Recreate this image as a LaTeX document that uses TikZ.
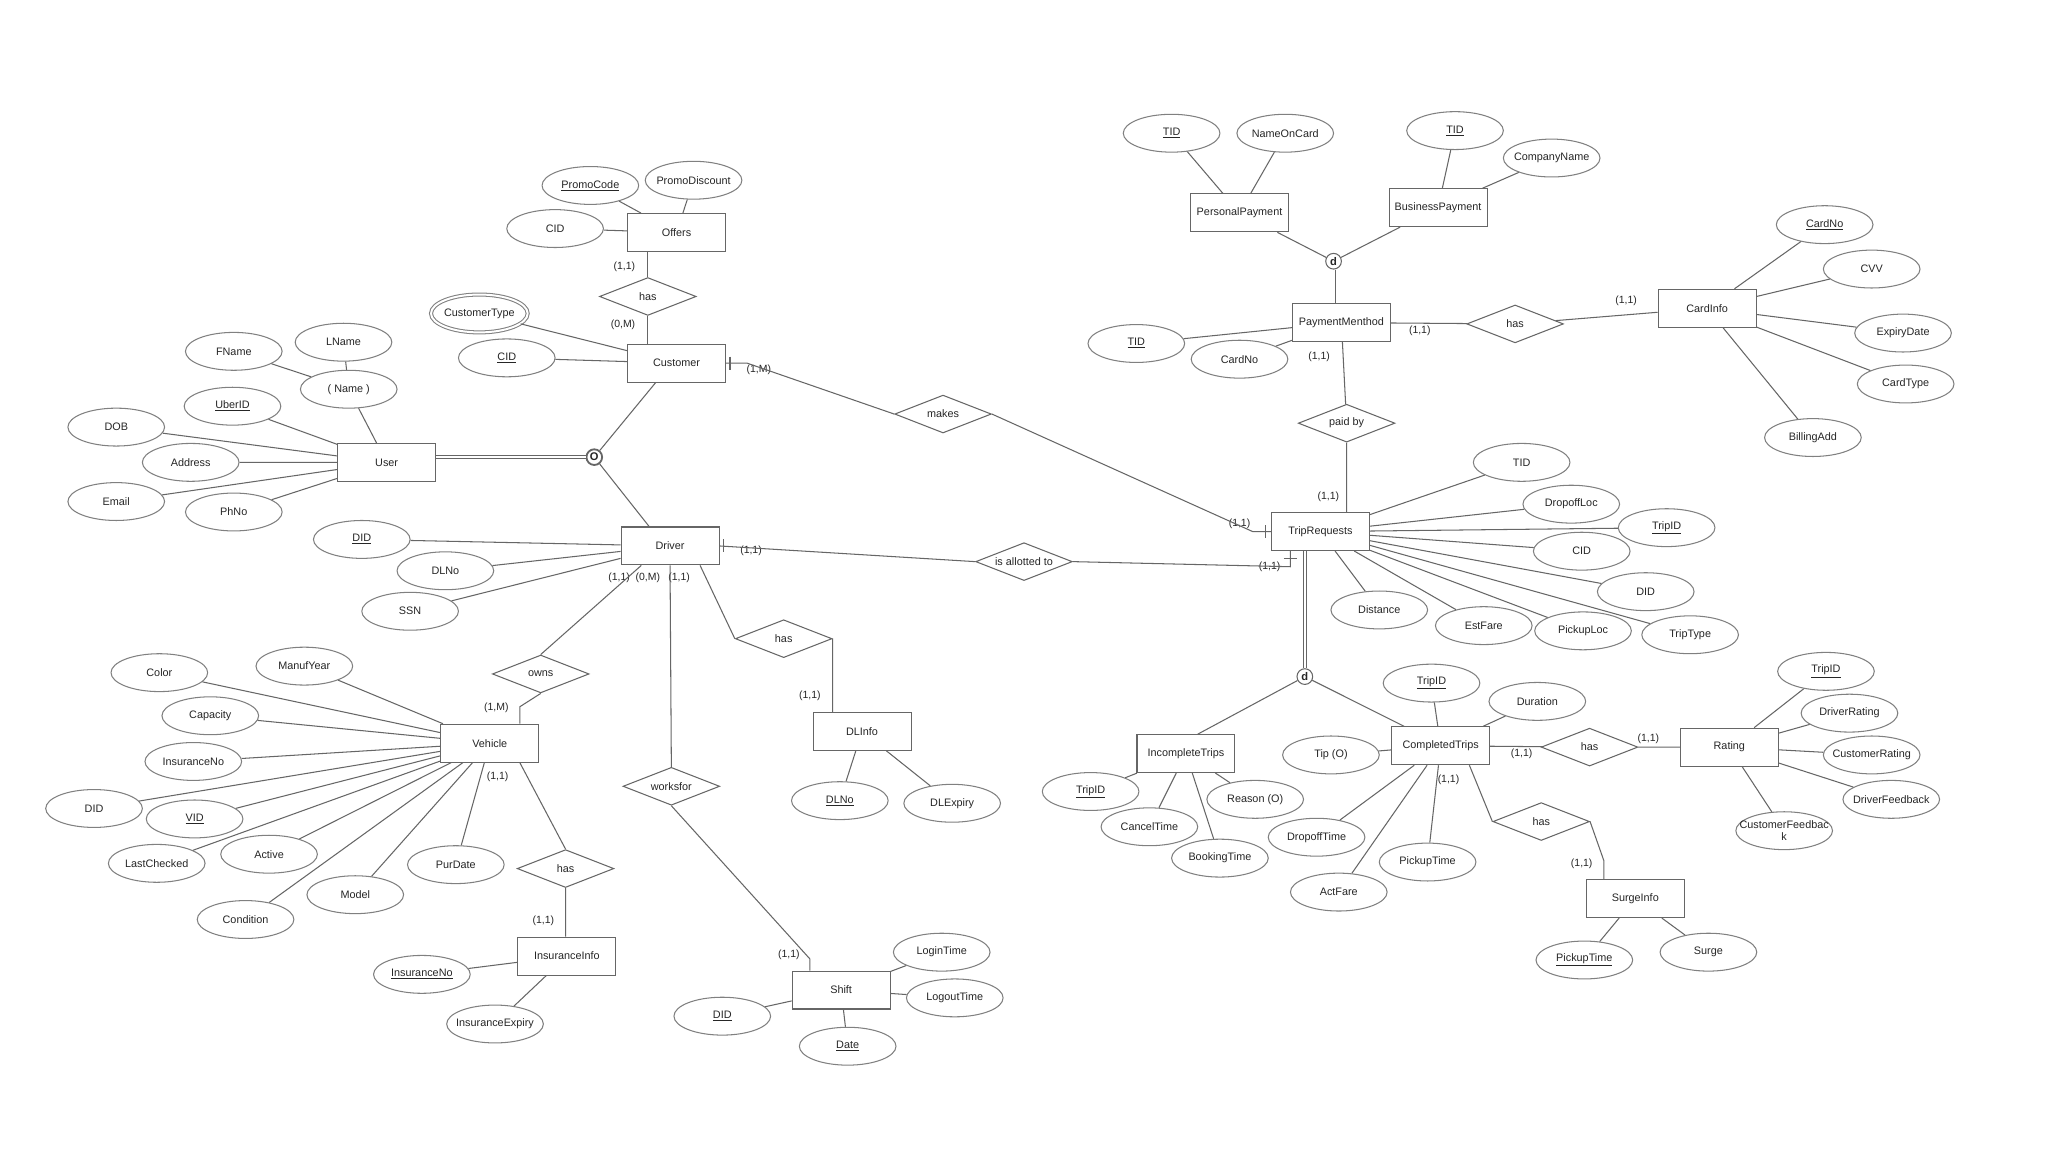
\documentclass[tikz,border=0pt]{standalone}
\usepackage{fontspec}
\setmainfont{Liberation Sans}
\usepackage{tikz}
\usetikzlibrary{shapes.geometric, positioning}

\begin{document}
\begin{tikzpicture}[x=1pt, y=-1pt,
  every node/.style={font=\fontsize{8.3}{9}\selectfont, text=black!85},
  attr/.style={ellipse, draw=black!50, line width=0.8pt, minimum width=74pt, minimum height=29pt, inner xsep=-8pt, inner ysep=0pt},
  ent/.style={rectangle, draw=black!60, line width=0.8pt, minimum width=75pt, minimum height=29pt, inner sep=1pt},
  rel/.style={diamond, draw=black!60, line width=0.8pt, minimum width=74pt, minimum height=29pt, inner sep=0pt, aspect=2.5},
  spec/.style={circle, draw=black!60, line width=0.8pt, inner sep=0pt, minimum size=12pt, font=\fontsize{8.5}{9}\selectfont\bfseries},
  card/.style={font=\fontsize{8}{9}\selectfont},
  lnk/.style={draw=black!60, line width=0.8pt},
  dbl/.style={draw=black!60, double, double distance=1.8pt, line width=0.6pt}]
\fill[white] (0,0) rectangle (1568,882);
\useasboundingbox (0,0) rectangle (1568,882);

% offers and customer
\node[attr] (pcode) at (452,142) {\underline{PromoCode}};
\node[attr] (pdisc) at (531,138) {PromoDiscount};
\node[attr] (ocid) at (425,175) {CID};
\node[ent] (offers) at (518,178) {Offers};
\node[rel] (hasof) at (496,227) {has};
\node[ent] (cust) at (518,278) {Customer};
\node[attr, double, double distance=1.5pt] (ctype) at (367,240) {CustomerType};
\node[attr] (ccid) at (388,274) {\underline{CID}};
\node[rel] (makes) at (722,317) {makes};

% user
\node[attr] (fname) at (179,269) {FName};
\node[attr] (lname) at (263,262) {LName};
\node[attr] (uname) at (267,298) {( Name )};
\node[attr] (uberid) at (178,311) {\underline{UberID}};
\node[attr] (dob) at (89,327) {DOB};
\node[attr] (addr) at (146,354) {Address};
\node[attr] (email) at (89,384) {Email};
\node[attr] (phno) at (179,392) {PhNo};
\node[ent] (user) at (296,354) {User};
\node[spec, line width=1.4pt] (ovl) at (455,350) {O};

% driver
\node[ent] (drv) at (513,418) {Driver};
\node[attr] (ddid) at (277,413) {\underline{DID}};
\node[attr] (dlno) at (341,437) {DLNo};
\node[attr] (ssn) at (314,468) {SSN};
\node[rel] (allot) at (784,430) {is allotted to};
\node[rel] (owns) at (414,516) {owns};
\node[rel] (wfor) at (514,602) {worksfor};
\node[rel] (hasdl) at (600,489) {has};
\node[ent] (dlinfo) at (660,560) {DLInfo};
\node[attr] (dldl) at (643,613) {\underline{DLNo}};
\node[attr] (dlexp) at (729,615) {DLExpiry};

% vehicle
\node[ent] (veh) at (375,569) {Vehicle};
\node[attr] (color) at (122,515) {Color};
\node[attr] (manuf) at (233,510) {ManufYear};
\node[attr] (capac) at (161,548) {Capacity};
\node[attr] (vinsno) at (148,583) {InsuranceNo};
\node[attr] (vdid) at (72,619) {DID};
\node[attr] (vid) at (149,627) {\underline{VID}};
\node[attr] (lastch) at (120,661) {LastChecked};
\node[attr] (active) at (206,654) {Active};
\node[attr] (model) at (272,685) {Model};
\node[attr] (purdate) at (349,662) {PurDate};
\node[attr] (cond) at (188,704) {Condition};
\node[rel] (hasins) at (433,665) {has};
\node[ent] (insinfo) at (434,732) {InsuranceInfo};
\node[attr] (insno) at (323,746) {\underline{InsuranceNo}};
\node[attr] (insexp) at (379,784) {InsuranceExpiry};

% shift
\node[ent] (shift) at (644,758) {Shift};
\node[attr] (login) at (721,729) {LoginTime};
\node[attr] (logout) at (731,764) {LogoutTime};
\node[attr] (sdid) at (553,778) {\underline{DID}};
\node[attr] (sdate) at (649,801) {\underline{Date}};

% payment
\node[attr] (pptid) at (897,102) {\underline{TID}};
\node[attr] (ppname) at (984,102) {NameOnCard};
\node[ent] (pp) at (949,163) {PersonalPayment};
\node[attr] (bptid) at (1114,100) {\underline{TID}};
\node[attr] (bpcomp) at (1188,121) {CompanyName};
\node[ent] (bp) at (1101,159) {BusinessPayment};
\node[spec] (dpay) at (1021,200) {d};
\node[ent] (pm) at (1027,247) {PaymentMenthod};
\node[attr] (pmtid) at (870,263) {\underline{TID}};
\node[attr] (pmcard) at (949,275) {CardNo};
\node[rel] (haspm) at (1160,248) {has};
\node[ent] (cinfo) at (1307,236) {CardInfo};
\node[attr] (cno) at (1397,172) {\underline{CardNo}};
\node[attr] (cvv) at (1433,206) {CVV};
\node[attr] (cexp) at (1457,255) {ExpiryDate};
\node[attr] (ctyp) at (1459,294) {CardType};
\node[attr] (cbill) at (1388,335) {BillingAdd};
\node[rel] (paid) at (1031,324) {paid by};

% trip requests
\node[ent] (trq) at (1011,407) {TripRequests};
\node[attr] (ttid) at (1165,354) {TID};
\node[attr] (tdrop) at (1203,386) {DropoffLoc};
\node[attr] (ttrip) at (1276,404) {\underline{TripID}};
\node[attr] (tcid) at (1211,422) {CID};
\node[attr] (tdid) at (1260,453) {DID};
\node[attr] (tdist) at (1056,467) {Distance};
\node[attr] (tfare) at (1136,479) {EstFare};
\node[attr] (tpick) at (1212,483) {PickupLoc};
\node[attr] (ttype) at (1294,486) {TripType};
\node[spec] (dtrip) at (999,518) {d};
\node[ent] (inc) at (908,577) {IncompleteTrips};
\node[attr] (itid) at (835,606) {\underline{TripID}};
\node[attr] (icanc) at (880,633) {CancelTime};
\node[attr] (ibook) at (934,657) {BookingTime};
\node[attr] (ireas) at (961,612) {Reason (O)};
\node[ent] (ct) at (1103,571) {CompletedTrips};
\node[attr] (ctid) at (1096,523) {\underline{TripID}};
\node[attr] (cdur) at (1177,537) {Duration};
\node[attr] (ctip) at (1019,578) {Tip (O)};
\node[attr] (cdrop) at (1008,641) {DropoffTime};
\node[attr] (cfare) at (1025,683) {ActFare};
\node[attr] (cpick) at (1093,660) {PickupTime};
\node[rel] (hasrt) at (1217,572) {has};
\node[ent] (rating) at (1324,572) {Rating};
\node[attr] (rtid) at (1398,514) {\underline{TripID}};
\node[attr] (rdr) at (1416,546) {DriverRating};
\node[attr] (rcr) at (1433,578) {CustomerRating};
\node[attr] (rdf) at (1448,612) {DriverFeedback};
\node[attr, align=center] (rcf) at (1366,636) {CustomerFeedbac\\k};
\node[rel] (hassg) at (1180,629) {has};
\node[ent] (surge) at (1252,688) {SurgeInfo};
\node[attr] (spick) at (1213,735) {\underline{PickupTime}};
\node[attr] (ssurge) at (1308,729) {Surge};

% cardinalities
\node[card] (l1) at (478,204) {(1,1)};
\node[card] (l2) at (477,249) {(0,M)};
\node[card] (l3) at (581,283) {(1,M)};
\node[card] (l4) at (949,401) {(1,1)};
\node[card] (l5) at (474,442) {(1,1)};
\node[card] (l6) at (496,442) {(0,M)};
\node[card] (l7) at (520,442) {(1,1)};
\node[card] (l8) at (575,422) {(1,1)};
\node[card] (l9) at (972,434) {(1,1)};
\node[card] (l10) at (380,542) {(1,M)};
\node[card] (l11) at (381,595) {(1,1)};
\node[card] (l12) at (416,705) {(1,1)};
\node[card] (l13) at (620,533) {(1,1)};
\node[card] (l14) at (604,731) {(1,1)};
\node[card] (l15) at (1010,273) {(1,1)};
\node[card] (l16) at (1087,253) {(1,1)};
\node[card] (l17) at (1245,230) {(1,1)};
\node[card] (l18) at (1017,380) {(1,1)};
\node[card] (l19) at (1165,577) {(1,1)};
\node[card] (l20) at (1262,566) {(1,1)};
\node[card] (l21) at (1109,597) {(1,1)};
\node[card] (l22) at (1211,661) {(1,1)};

% connectors
\draw[lnk] (pcode) -- (offers) (pdisc) -- (offers) (ocid) -- (offers);
\draw[lnk] (hasof.north |- offers.south) -- (hasof.north) (hasof.south) -- (hasof.south |- cust.north);
\draw[lnk] (ctype) -- (cust) (ccid) -- (cust);
\draw[lnk] (cust.east) -- ([xshift=16pt]cust.east) -- (makes.west);
\draw[lnk] (makes.east) -- ([xshift=-14pt]trq.west) -- (trq.west);
\draw[lnk] ([xshift=3pt,yshift=5pt]cust.east) -- ([xshift=3pt,yshift=-5pt]cust.east);
\draw[lnk] ([xshift=-4pt,yshift=5pt]trq.west) -- ([xshift=-4pt,yshift=-5pt]trq.west);
\draw[lnk] (fname) -- (uname) (lname) -- (uname) (uname) -- (user);
\draw[lnk] (uberid) -- (user) (dob) -- (user) (addr) -- (user) (email) -- (user) (phno) -- (user);
\draw[dbl] (user.east |- ovl.west) -- (ovl.west);
\draw[lnk] (ovl) -- ([xshift=-16pt]cust.south) (ovl) -- ([xshift=-16pt]drv.north);
\draw[lnk] (ddid) -- (drv) (dlno) -- (drv) (ssn) -- (drv);
\draw[lnk] (drv.east) -- (allot.west);
\draw[lnk] (allot.east) -- ([xshift=-23pt,yshift=-12pt]trq.south) -- ([xshift=-23pt]trq.south);
\draw[lnk] ([xshift=3pt,yshift=5pt]drv.east) -- ([xshift=3pt,yshift=-5pt]drv.east);
\draw[lnk] ([xshift=-28pt,yshift=-6pt]trq.south) -- ([xshift=-18pt,yshift=-6pt]trq.south);
\draw[lnk] ([xshift=-22pt]drv.south) -- (owns.north);
\draw[lnk] (owns.south) -- ([xshift=23pt,yshift=13pt]veh.north) -- ([xshift=23pt]veh.north);
\draw[lnk] (drv.south) -- (wfor.north);
\draw[lnk] (wfor.south) -- ([xshift=-24pt,yshift=9pt]shift.north) -- ([xshift=-24pt]shift.north);
\draw[lnk] ([xshift=23pt]drv.south) -- (hasdl.west) (hasdl.east) -- (hasdl.east |- dlinfo.north);
\draw[lnk] (dldl) -- (dlinfo) (dlexp) -- (dlinfo);
\draw[lnk] (color) -- (veh) (manuf) -- (veh) (capac) -- (veh) (vinsno) -- (veh) (vdid) -- (veh) (vid) -- (veh);
\draw[lnk] (lastch) -- (veh) (active) -- (veh) (model) -- (veh) (purdate) -- (veh) (cond) -- (veh);
\draw[lnk] ([xshift=23pt]veh.south) -- (hasins.north) (hasins.south) -- (hasins.south |- insinfo.north);
\draw[lnk] (insno) -- (insinfo) (insexp) -- (insinfo);
\draw[lnk] (login) -- (shift) (logout) -- (shift) (sdid) -- (shift) (sdate) -- (shift);
\draw[lnk] (pptid) -- (pp) (ppname) -- (pp) (bptid) -- (bp) (bpcomp) -- (bp);
\draw[lnk] (pp) -- (dpay) (bp) -- (dpay);
\draw[dbl] (dpay.south) -- (dpay.south |- pm.north);
\draw[lnk] (pmtid) -- (pm) (pmcard) -- (pm);
\draw[lnk] (pm) -- (haspm) (haspm) -- (cinfo);
\draw[lnk] (cno) -- (cinfo) (cvv) -- (cinfo) (cexp) -- (cinfo) (ctyp) -- (cinfo) (cbill) -- (cinfo);
\draw[lnk] (pm) -- (paid) (paid.south) -- (paid.south |- trq.north);
\draw[lnk] (ttid) -- (trq) (tdrop) -- (trq) (ttrip) -- (trq) (tcid) -- (trq) (tdid) -- (trq);
\draw[lnk] (tdist) -- (trq) (tfare) -- (trq) (tpick) -- (trq) (ttype) -- (trq);
\draw[dbl] ([xshift=-12pt]trq.south) -- ([xshift=-12pt]trq.south |- dtrip.north);
\draw[lnk] (dtrip) -- ([xshift=9pt]inc.north) (dtrip) -- ([xshift=-28pt]ct.north);
\draw[lnk] (itid) -- (inc) (icanc) -- (inc) (ibook) -- (inc) (ireas) -- (inc);
\draw[lnk] (ctid) -- (ct) (cdur) -- (ct) (ctip) -- (ct) (cdrop) -- (ct) (cfare) -- (ct) (cpick) -- (ct);
\draw[lnk] (ct) -- (hasrt) (hasrt) -- (rating);
\draw[lnk] (rtid) -- (rating) (rdr) -- (rating) (rcr) -- (rating) (rdf) -- (rating) (rcf) -- (rating);
\draw[lnk] ([xshift=22pt]ct.south) -- (hassg.west);
\draw[lnk] (hassg.east) -- ([xshift=-24pt,yshift=14pt]surge.north) -- ([xshift=-24pt]surge.north);
\draw[lnk] (spick) -- (surge) (ssurge) -- (surge);
\end{tikzpicture}
\end{document}
